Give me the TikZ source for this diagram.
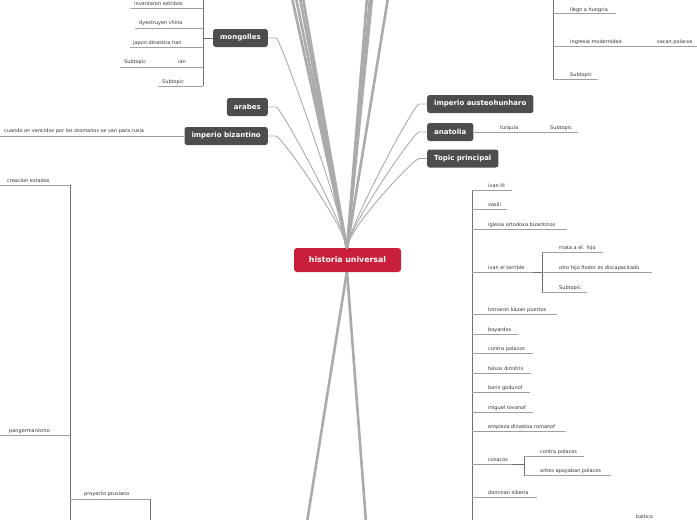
\documentclass[tikz,border=0pt]{standalone}
\usepackage{fontspec}
\setmainfont{DejaVu Sans}
\begin{document}
\begin{tikzpicture}[x=1pt,y=-1pt,
  topic/.style={fill=topicgrey,text=white,font=\bfseries\fontsize{7}{8}\selectfont,rounded corners=2.5pt,inner xsep=7pt,minimum height=18pt,anchor=west},
  central/.style={fill=centralred,text=white,font=\bfseries\fontsize{7.8}{9}\selectfont,rounded corners=3pt,minimum width=107pt,minimum height=24pt},
  sub/.style={font=\fontsize{5}{6}\selectfont,text=black!80,inner sep=0pt,anchor=base west},
  trunk/.style={draw=linegrey,line width=2.6pt},
  branch/.style={draw=linegrey,line width=0.9pt},
  ul/.style={draw=ulgrey,line width=0.8pt},
  brk/.style={draw=brkgrey,line width=1pt}]
\definecolor{topicgrey}{HTML}{4D4D4D}
\definecolor{centralred}{HTML}{C8203A}
\definecolor{linegrey}{HTML}{ABABAB}
\definecolor{ulgrey}{HTML}{A0A0A0}
\definecolor{brkgrey}{HTML}{707070}
\useasboundingbox (0,0) rectangle (697,520);
% trunks
\coordinate (ct) at (347,249);
\coordinate (cb) at (347,271);
\foreach \x in {292,296,300,303,367,370,372,388}{\draw[trunk] (ct) -- (\x,-2);}
\coordinate (b1) at (307,522);
\coordinate (b2) at (366,522);
\draw[trunk] (cb) -- (b1);
\draw[trunk] (cb) -- (b2);
% central
\node[central] (c) at (347.5,260) {historia universal};
% topics
\node[topic,anchor=east] (mong) at (268,38) {mongolles};
\node[topic,anchor=east] (arab) at (268,107) {arabes};
\node[topic,anchor=east] (biz) at (268,136) {imperio bizantino};
\node[topic] (aus) at (427,104) {imperio austeohunharo};
\node[topic] (ana) at (427,132) {anatolia};
\node[topic] (tp) at (427,158.5) {Topic principal};
\foreach \n in {mong,arab,biz}{\draw[branch] (\n.east) -- ++(8,0) .. controls +(5,0) and +(0,-20) .. (ct);}
\foreach \n in {aus,ana,tp}{\draw[branch] (\n.west) -- ++(-8,0) .. controls +(-5,0) and +(0,-20) .. (ct);}
% mongolles subtopics
\draw[brk] (mong.west) -- (203,38);
\draw[brk] (203,-1) -- (203,86);
\node[sub] (m1) at (134,5) {inventaron estribos};
\node[sub] (m2) at (139,24) {dyestruyen china};
\node[sub] (m3) at (133,44) {japon dinastira han};
\node[sub] (m4) at (178,63) {ian};
\node[sub] (m5) at (124,63) {Subtopic};
\node[sub] (m6) at (162,83) {Subtopic};
\draw[ul] (130,8) -- (203,8);
\draw[ul] (135,28) -- (203,28);
\draw[ul] (130,47) -- (203,47);
\draw[ul] (120,67) -- (203,67);
\draw[ul] (158,86) -- (203,86);
% bizantino
\node[sub] (bz) at (4,132) {cuando on vencidos por los otomanos se van para rusia};
\draw[ul] (0,136) -- (biz.west);
% top-right list
\draw[brk] (553,-1) -- (553,79);
\node[sub] (h1) at (570,11) {llegn a hungria};
\node[sub] (h2) at (570,43) {ingresia modernidad};
\node[sub] (h3) at (657,43) {sacan polacos};
\node[sub] (h4) at (570,76) {Subtopic};
\draw[ul] (553,13) -- (616,13);
\draw[ul] (553,46) -- (697,46);
\draw[ul] (553,79) -- (598,79);
% anatolia
\node[sub] (tq) at (500,129) {turquia};
\node[sub] (ts) at (550,129) {Subtopic};
\draw[ul] (ana.east) -- (578,132);
% left bottom
\draw[brk] (70,185) -- (70,522);
\node[sub] (l1) at (7,182) {creacion estados};
\node[sub] (l2) at (9,432) {pangermanismo};
\node[sub] (l3) at (84,495) {proyecto prusiano};
\draw[ul] (0,185) -- (70,185);
\draw[ul] (0,435) -- (70,435);
\draw[ul] (70,499) -- (150,499);
\draw[brk] (150,499) -- (150,522);
% right list
\draw[brk] (472,190) -- (472,522);
\newcommand{\ritem}[4]{\node[sub] (#1) at (488,#2-2.5) {#4}; \draw[ul] (472,#2) -- (#3,#2);}
\ritem{r1}{190}{512}{ivan III}
\ritem{r2}{209}{507}{vasili}
\ritem{r3}{229}{567}{iglesia ortodoxa bizantinos}
\ritem{r4}{272}{533}{ivan el terrible}
\ritem{r5}{314}{557}{tomaron kazan puertos}
\ritem{r6}{334}{518}{boyardos}
\ritem{r7}{353}{533}{contra polacos}
\ritem{r8}{373}{531}{falsos dimitris}
\ritem{r9}{392}{530}{boris godunof}
\ritem{r10}{412}{533}{miguel rovanof}
\ritem{r11}{431}{566}{empieza dinastoa romanof}
\ritem{r12}{464}{512}{cosacos}
\ritem{r13}{497}{537}{dominan siberia}
\draw[brk] (533,272) -- (542,272);
\draw[brk] (542,252) -- (542,292);
\node[sub] (t1) at (559,249.5) {mata a el. hijo};
\node[sub] (t2) at (559,269.5) {otro hijo fiodor es discapacitado};
\node[sub] (t3) at (559,289.5) {Subtopic};
\draw[ul] (542,252) -- (603,252);
\draw[ul] (542,272) -- (652,272);
\draw[ul] (542,292) -- (587,292);
\draw[brk] (512,464) -- (524,464);
\draw[brk] (524,456) -- (524,475);
\node[sub] (k1) at (540,453.5) {contra polacos};
\node[sub] (k2) at (540,472.5) {antes apoyaban polacos};
\draw[ul] (524,456) -- (584,456);
\draw[ul] (524,475) -- (611,475);
\node[sub] (bal) at (636,518) {baltico};
\end{tikzpicture}
\end{document}
